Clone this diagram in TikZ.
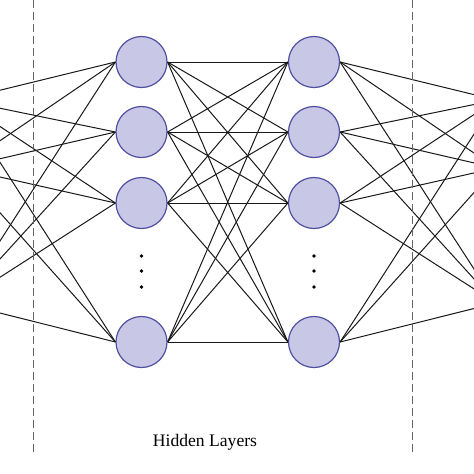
\documentclass[tikz,border=0pt]{standalone}
\usepackage{fontspec}
\setmainfont{Liberation Serif}
\definecolor{nodefill}{RGB}{200,200,230}
\definecolor{nodeedge}{RGB}{80,80,160}
\definecolor{dashgray}{RGB}{100,100,100}
\begin{document}
\begin{tikzpicture}[x=1pt,y=-1pt,
  neuron/.style={circle,fill=nodefill,draw=nodeedge,line width=1.2pt,minimum size=51pt,inner sep=0pt},
  conn/.style={draw=black!90,line width=1pt},
  sep/.style={draw=dashgray,line width=1pt,dash pattern=on 8pt off 4pt},
  dotmark/.style={circle,fill=black,inner sep=0pt,minimum size=3.8pt}]
\useasboundingbox (0,0) rectangle (474,474);
\clip (0,0) rectangle (474,474);
% off-canvas input and output points
\coordinate (i1) at (-40,100);
\coordinate (i2) at (-40,168);
\coordinate (i3) at (-40,303);
\coordinate (o1) at (496,100);
\coordinate (o2) at (496,168);
\coordinate (o3) at (496,303);
% hidden layers
\foreach \n/\y in {a/62,b/132,c/203,d/342}{
  \node[neuron] (h1\n) at (141.5,\y) {};
  \node[neuron] (h2\n) at (314,\y) {};
}
% connectors
\foreach \i in {i1,i2,i3}{
  \foreach \n in {a,b,c,d}{
    \draw[conn] (\i) -- (h1\n.west);
  }
}
\foreach \m in {a,b,c,d}{
  \foreach \n in {a,b,c,d}{
    \draw[conn] (h1\m.east) -- (h2\n.west);
  }
}
\foreach \o in {o1,o2,o3}{
  \foreach \n in {a,b,c,d}{
    \draw[conn] (h2\n.east) -- (\o);
  }
}
% ellipsis dots
\foreach \y [count=\k] in {256,271,287}{
  \node[dotmark] (d1\k) at (141.5,\y) {};
  \node[dotmark] (d2\k) at (314,\y) {};
}
% dashed separators
\coordinate (sl1) at (33,0);
\coordinate (sl2) at (33,455);
\coordinate (sr1) at (412,0);
\coordinate (sr2) at (412,455);
\draw[sep] (sl1) -- (sl2);
\draw[sep] (sr1) -- (sr2);
% label
\node[font=\fontsize{17.6}{20}\selectfont,inner sep=0pt,anchor=base] (lbl) at (205,446) {Hidden Layers};
\end{tikzpicture}
\end{document}
